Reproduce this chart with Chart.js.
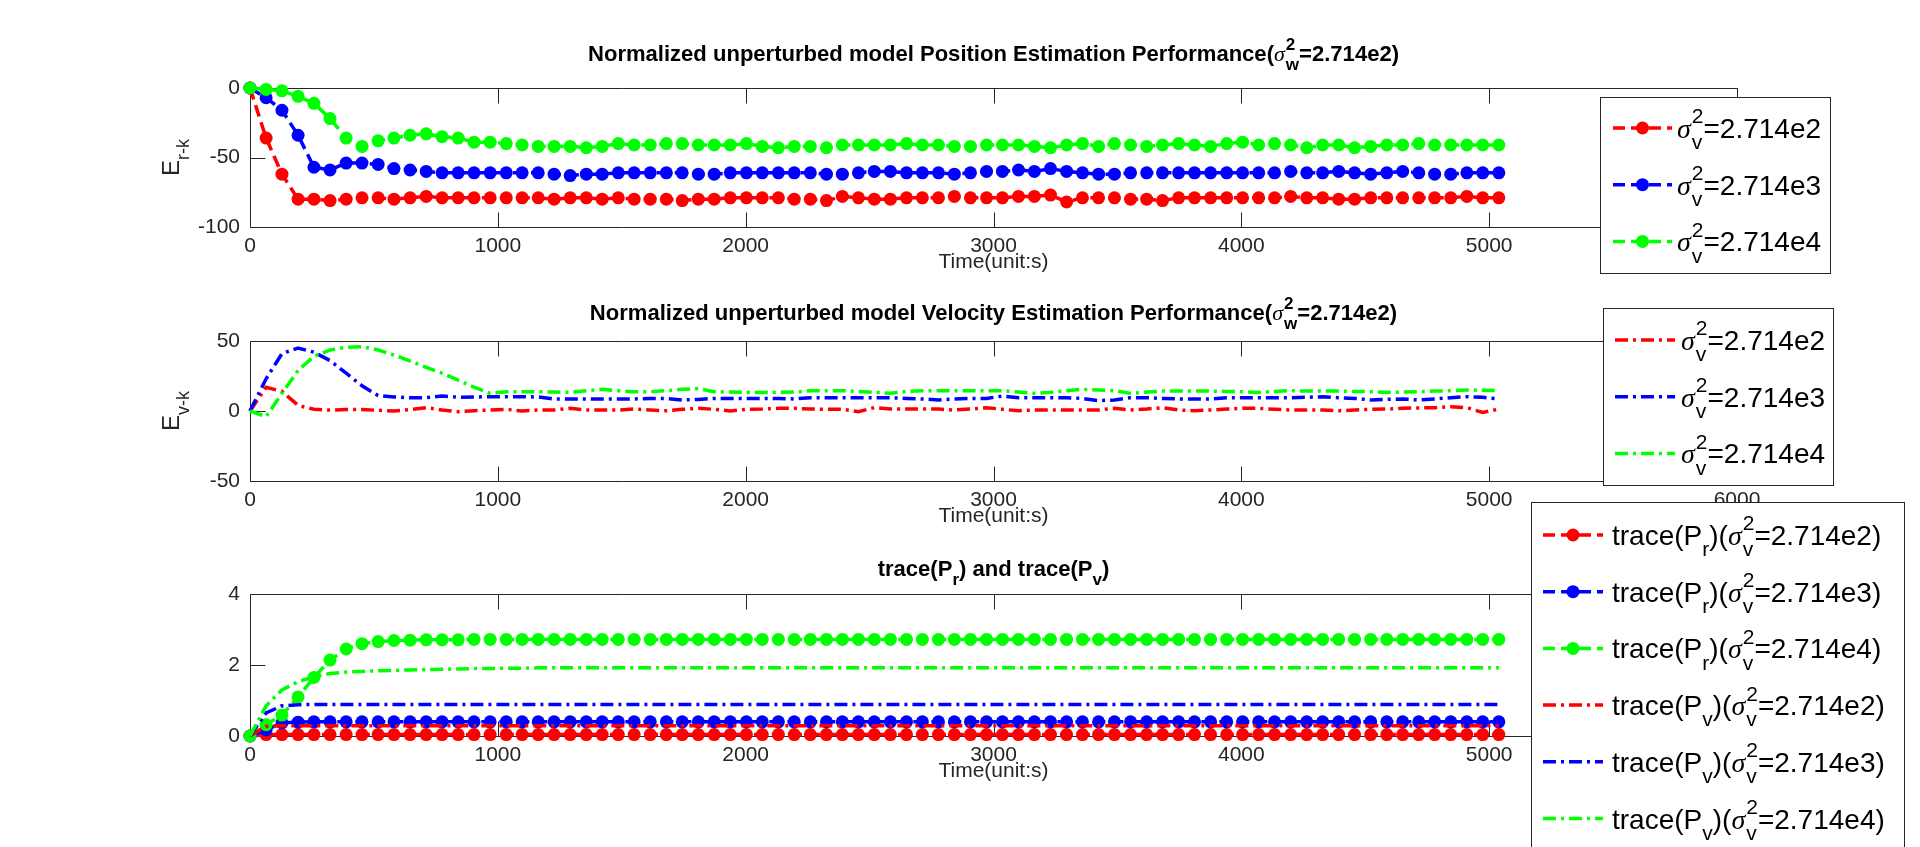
<!DOCTYPE html>
<html>
<head>
<meta charset="utf-8">
<script src="https://cdn.jsdelivr.net/npm/chart.js@4.4.1/dist/chart.umd.min.js"></script>
<style>
  html, body { margin: 0; padding: 0; background: #fff; }
  #wrap { position: relative; width: 1920px; height: 847px; overflow: hidden; background: #fff; }
  #wrap canvas { position: absolute; left: 0; top: 0; }
</style>
</head>
<body>
<div id="wrap">
  <canvas id="posChart" width="1920" height="847"></canvas>
  <canvas id="velChart" width="1920" height="847"></canvas>
  <canvas id="trChart" width="1920" height="847"></canvas>
</div>
<script>
// sample times (s)
const timeS = [0, 65, 129, 194, 258, 323, 388, 452, 517, 581,
  646, 711, 775, 840, 904, 969, 1034, 1098, 1163, 1227,
  1292, 1357, 1421, 1486, 1550, 1615, 1680, 1744, 1809, 1873,
  1938, 2003, 2067, 2132, 2196, 2261, 2326, 2390, 2455, 2519,
  2584, 2649, 2713, 2778, 2842, 2907, 2972, 3036, 3101, 3165,
  3230, 3295, 3359, 3424, 3488, 3553, 3618, 3682, 3747, 3811,
  3876, 3941, 4005, 4070, 4134, 4199, 4264, 4328, 4393, 4457,
  4522, 4587, 4651, 4716, 4780, 4845, 4910, 4974, 5039];

// position error E_r-k
const posR2 = [0, -36, -62, -80, -80, -81, -80, -79, -79, -80,
  -79, -78, -79, -79, -79, -79, -79, -79, -79, -80,
  -79, -79, -80, -79, -80, -80, -80, -81, -80, -80,
  -79, -79, -79, -79, -80, -80, -81, -78, -79, -80,
  -80, -79, -79, -79, -78, -79, -79, -79, -78, -78,
  -77, -82, -79, -79, -79, -80, -80, -81, -79, -79,
  -79, -79, -79, -79, -79, -78, -79, -79, -80, -80,
  -79, -79, -79, -79, -79, -79, -78, -79, -79];
const posR3 = [0, -7, -16, -34, -57, -59, -54, -54, -55, -58,
  -59, -60, -61, -61, -61, -61, -61, -61, -61, -62,
  -63, -62, -62, -61, -61, -61, -61, -61, -62, -62,
  -61, -61, -61, -61, -61, -61, -62, -62, -61, -60,
  -60, -61, -61, -61, -62, -61, -60, -60, -59, -60,
  -58, -60, -61, -62, -62, -61, -61, -61, -61, -61,
  -61, -61, -61, -61, -61, -60, -61, -61, -60, -61,
  -62, -61, -60, -61, -62, -62, -61, -61, -61];
const posR4 = [0, -1, -2, -6, -11, -22, -36, -42, -38, -36,
  -34, -33, -35, -36, -39, -39, -40, -41, -42, -42,
  -42, -43, -42, -40, -41, -41, -40, -40, -41, -41,
  -41, -40, -42, -43, -42, -42, -43, -41, -41, -41,
  -41, -40, -41, -41, -42, -42, -41, -41, -41, -42,
  -43, -41, -40, -42, -40, -41, -42, -41, -40, -41,
  -42, -40, -39, -41, -40, -41, -43, -41, -41, -43,
  -42, -41, -41, -40, -41, -41, -41, -41, -41];

// velocity error E_v-k
const velR2 = [0, 17, 14, 4, 1.2, 0.7, 1, 1, 0.5, 0,
  1, 2.4, 0.7, -0.5, 0.2, 0.7, 1.2, 0, 0.7, 0.7,
  1.9, 0.7, 0.7, 0.7, 1.4, 0.7, 0.2, 1.2, 1.9, 1.2,
  0, 1.2, 1.4, 1.9, 1.9, 1.4, 1.2, 1.2, -0.5, 2.4,
  1.4, 1.4, 1.4, 1.4, 0.7, 1.4, 2.4, 1.2, 0.2, 0.7,
  0.7, 0.7, 0.7, 0.7, 1.9, 0.7, 1.4, 2.4, 0.7, 0.2,
  0.7, 1.4, 1.9, 1.9, 1.2, 0.7, 0.7, 0.7, 0.2, 0.7,
  1.2, 1.4, 1.9, 2.2, 2.4, 3.1, 2.4, -1, 1.4];
const velR3 = [0, 23, 41, 45, 42, 36, 27, 18, 11, 10,
  9.5, 9.5, 10.7, 9.8, 10, 10.2, 10.2, 10.2, 10, 8.6,
  8.6, 8.6, 8.6, 8.6, 8.6, 9, 9, 7.9, 8.3, 9,
  9, 9, 9, 9, 8.6, 9.5, 9.5, 9.5, 9.5, 9.5,
  9.5, 9, 8.6, 7.9, 8.6, 9, 9, 10.7, 9.5, 9.5,
  9.5, 9.5, 9, 7.4, 7.9, 9.5, 9.5, 9, 8.6, 8.6,
  8.6, 9.5, 9.5, 9.5, 9.5, 9.5, 9.8, 10.2, 9.5, 9,
  7.9, 8.3, 8.6, 7.9, 8.6, 9.5, 10.2, 9.8, 8.6];
const velR4 = [0, -4, 12.6, 29, 39, 43.6, 45.5, 46, 43.6, 40,
  35.7, 31.2, 27, 22, 17, 12.6, 13.8, 13.8, 13.8, 13.5,
  13.3, 14.5, 15.5, 14.5, 13.8, 13.8, 14.5, 15.5, 16, 13.8,
  13.5, 13.3, 13.3, 13.3, 13.5, 14.5, 14.5, 14.5, 14, 13.3,
  12.6, 14, 14.5, 14.5, 14.5, 14.5, 14.5, 14.5, 13.5, 12.6,
  13.3, 14.5, 15.5, 15, 14.5, 12.6, 13.5, 14.2, 14.2, 14.2,
  14.2, 14, 13.8, 13.3, 14, 14.5, 14.2, 14.2, 14.2, 14,
  13.8, 13.3, 13.5, 13.8, 14.2, 14.5, 15, 14.8, 14.5];

// covariance traces
const trPr2 = [0, 0.04, 0.04, 0.04, 0.04, 0.04, 0.04, 0.04, 0.04, 0.04,
  0.04, 0.04, 0.04, 0.04, 0.04, 0.04, 0.04, 0.04, 0.04, 0.04,
  0.04, 0.04, 0.04, 0.04, 0.04, 0.04, 0.04, 0.04, 0.04, 0.04,
  0.04, 0.04, 0.04, 0.04, 0.04, 0.04, 0.04, 0.04, 0.04, 0.04,
  0.04, 0.04, 0.04, 0.04, 0.04, 0.04, 0.04, 0.04, 0.04, 0.04,
  0.04, 0.04, 0.04, 0.04, 0.04, 0.04, 0.04, 0.04, 0.04, 0.04,
  0.04, 0.04, 0.04, 0.04, 0.04, 0.04, 0.04, 0.04, 0.04, 0.04,
  0.04, 0.04, 0.04, 0.04, 0.04, 0.04, 0.04, 0.04, 0.04];
const trPr3 = [0, 0.17, 0.37, 0.39, 0.4, 0.4, 0.4, 0.4, 0.4, 0.4,
  0.4, 0.4, 0.4, 0.4, 0.4, 0.4, 0.4, 0.4, 0.4, 0.4,
  0.4, 0.4, 0.4, 0.4, 0.4, 0.4, 0.4, 0.4, 0.4, 0.4,
  0.4, 0.4, 0.4, 0.4, 0.4, 0.4, 0.4, 0.4, 0.4, 0.4,
  0.4, 0.4, 0.4, 0.4, 0.4, 0.4, 0.4, 0.4, 0.4, 0.4,
  0.4, 0.4, 0.4, 0.4, 0.4, 0.4, 0.4, 0.4, 0.4, 0.4,
  0.4, 0.4, 0.4, 0.4, 0.4, 0.4, 0.4, 0.4, 0.4, 0.4,
  0.4, 0.4, 0.4, 0.4, 0.4, 0.4, 0.4, 0.4, 0.4];
const trPr4 = [0, 0.32, 0.59, 1.1, 1.65, 2.14, 2.45, 2.6, 2.66, 2.69,
  2.7, 2.71, 2.71, 2.71, 2.72, 2.72, 2.72, 2.72, 2.72, 2.72,
  2.72, 2.72, 2.72, 2.72, 2.72, 2.72, 2.72, 2.72, 2.72, 2.72,
  2.72, 2.72, 2.72, 2.72, 2.72, 2.72, 2.72, 2.72, 2.72, 2.72,
  2.72, 2.72, 2.72, 2.72, 2.72, 2.72, 2.72, 2.72, 2.72, 2.72,
  2.72, 2.72, 2.72, 2.72, 2.72, 2.72, 2.72, 2.72, 2.72, 2.72,
  2.72, 2.72, 2.72, 2.72, 2.72, 2.72, 2.72, 2.72, 2.72, 2.72,
  2.72, 2.72, 2.72, 2.72, 2.72, 2.72, 2.72, 2.72, 2.72];
const trPv2 = [0, 0.27, 0.29, 0.29, 0.29, 0.29, 0.29, 0.29, 0.29, 0.29,
  0.29, 0.29, 0.29, 0.29, 0.29, 0.29, 0.29, 0.29, 0.29, 0.29,
  0.29, 0.29, 0.29, 0.29, 0.29, 0.29, 0.29, 0.29, 0.29, 0.29,
  0.29, 0.29, 0.29, 0.29, 0.29, 0.29, 0.29, 0.29, 0.29, 0.29,
  0.29, 0.29, 0.29, 0.29, 0.29, 0.29, 0.29, 0.29, 0.29, 0.29,
  0.29, 0.29, 0.29, 0.29, 0.29, 0.29, 0.29, 0.29, 0.29, 0.29,
  0.29, 0.29, 0.29, 0.29, 0.29, 0.29, 0.29, 0.29, 0.29, 0.29,
  0.29, 0.29, 0.29, 0.29, 0.29, 0.29, 0.29, 0.29, 0.29];
const trPv3 = [0, 0.65, 0.85, 0.88, 0.89, 0.89, 0.89, 0.89, 0.89, 0.89,
  0.89, 0.89, 0.89, 0.89, 0.89, 0.89, 0.89, 0.89, 0.89, 0.89,
  0.89, 0.89, 0.89, 0.89, 0.89, 0.89, 0.89, 0.89, 0.89, 0.89,
  0.89, 0.89, 0.89, 0.89, 0.89, 0.89, 0.89, 0.89, 0.89, 0.89,
  0.89, 0.89, 0.89, 0.89, 0.89, 0.89, 0.89, 0.89, 0.89, 0.89,
  0.89, 0.89, 0.89, 0.89, 0.89, 0.89, 0.89, 0.89, 0.89, 0.89,
  0.89, 0.89, 0.89, 0.89, 0.89, 0.89, 0.89, 0.89, 0.89, 0.89,
  0.89, 0.89, 0.89, 0.89, 0.89, 0.89, 0.89, 0.89, 0.89];
const trPv4 = [0, 0.85, 1.3, 1.53, 1.67, 1.76, 1.8, 1.82, 1.84, 1.85,
  1.86, 1.87, 1.88, 1.89, 1.9, 1.9, 1.91, 1.91, 1.92, 1.92,
  1.92, 1.92, 1.92, 1.92, 1.92, 1.92, 1.92, 1.92, 1.92, 1.92,
  1.92, 1.92, 1.92, 1.92, 1.92, 1.92, 1.92, 1.92, 1.92, 1.92,
  1.92, 1.92, 1.92, 1.92, 1.92, 1.92, 1.92, 1.92, 1.92, 1.92,
  1.92, 1.92, 1.92, 1.92, 1.92, 1.92, 1.92, 1.92, 1.92, 1.92,
  1.92, 1.92, 1.92, 1.92, 1.92, 1.92, 1.92, 1.92, 1.92, 1.92,
  1.92, 1.92, 1.92, 1.92, 1.92, 1.92, 1.92, 1.92, 1.92];

// tick labels
const xTicks = [0, 1000, 2000, 3000, 4000, 5000, 6000];
const yTicksPos = [-100, -50, 0];
const yTicksVel = [-50, 0, 50];
const yTicksTr = [0, 2, 4];

const RED = '#ff0000', BLUE = '#0000ff', GREEN = '#00ff00';
const AXC = '#262626';
const SANS = '"Liberation Sans", Arial, Helvetica, sans-serif';
const SERIF = '"Liberation Serif", "Times New Roman", serif';
const DASH = [12, 6];
const DASHDOT = [13, 5, 3, 5];
const AX_LEFT = 250, AX_RIGHT = 1737, XH = 48, TICKLEN = 15;
const LINEW = 3.5, MARKR = 6.5;

// ---- rich text (sub/superscripts like MATLAB TeX) ----
function fontOf(kind, F, bold) {
  const b = bold ? 'bold ' : '';
  if (kind === 'sym') return 'italic ' + F + 'px ' + SERIF;
  if (kind === 'script') return b + Math.round(F * 0.75) + 'px ' + SANS;
  return b + F + 'px ' + SANS;
}
function richWidth(ctx, parts, F, bold) {
  let w = 0;
  parts.forEach(p => {
    if (typeof p === 'string') { ctx.font = fontOf('n', F, bold); w += ctx.measureText(p).width; }
    else if (p.sym) { ctx.font = fontOf('sym', F, bold); w += ctx.measureText(p.sym).width + 1; }
    else {
      ctx.font = fontOf('script', F, bold);
      w += Math.max(p.sup ? ctx.measureText(p.sup).width : 0, p.sub ? ctx.measureText(p.sub).width : 0);
    }
  });
  return w;
}
function drawRich(ctx, parts, x, y, F, bold, color) {
  ctx.fillStyle = color;
  ctx.textBaseline = 'alphabetic';
  ctx.textAlign = 'left';
  parts.forEach(p => {
    if (typeof p === 'string') {
      ctx.font = fontOf('n', F, bold); ctx.fillText(p, x, y); x += ctx.measureText(p).width;
    } else if (p.sym) {
      ctx.font = fontOf('sym', F, bold); ctx.fillText(p.sym, x, y); x += ctx.measureText(p.sym).width + 1;
    } else {
      ctx.font = fontOf('script', F, bold);
      let w = 0;
      if (p.sup) { ctx.fillText(p.sup, x, y - F * 0.52); w = ctx.measureText(p.sup).width; }
      if (p.sub) { ctx.fillText(p.sub, x, y + F * 0.4); w = Math.max(w, ctx.measureText(p.sub).width); }
      x += w;
    }
  });
}

// decorations kept outside Chart.js options (its option proxy rewrites nested arrays)
const extras = {};
const TITLE_F = 22, TITLE_W = 811;
let titleScaleX = null;

const matlabPlugin = {
  id: 'matlabBox',
  beforeDatasetsDraw(chart) {
    const ctx = chart.ctx, a = chart.chartArea;
    const xs = chart.scales.x, ys = chart.scales.y;
    ctx.save();
    ctx.strokeStyle = AXC;
    ctx.lineWidth = 1;
    ctx.setLineDash([]);
    ctx.beginPath();
    const L = Math.round(a.left) + 0.5, R = Math.round(a.right) + 0.5;
    const T = Math.round(a.top) + 0.5, B = Math.round(a.bottom) + 0.5;
    ctx.rect(L, T, R - L, B - T);
    xs.ticks.forEach(t => {
      const px = Math.round(xs.getPixelForValue(t.value)) + 0.5;
      ctx.moveTo(px, B); ctx.lineTo(px, B - TICKLEN);
      ctx.moveTo(px, T); ctx.lineTo(px, T + TICKLEN);
    });
    ys.ticks.forEach(t => {
      const py = Math.round(ys.getPixelForValue(t.value)) + 0.5;
      ctx.moveTo(L, py); ctx.lineTo(L + TICKLEN, py);
      ctx.moveTo(R, py); ctx.lineTo(R - TICKLEN, py);
    });
    ctx.stroke();
    ctx.restore();
  },
  afterDraw(chart) {
    const ex = extras[chart.canvas.id];
    const ctx = chart.ctx, a = chart.chartArea;
    ctx.save();
    // title: bold, slightly condensed like the MATLAB rendering
    if (titleScaleX === null) {
      titleScaleX = TITLE_W / richWidth(ctx, ex.fitTitle, TITLE_F, true);
    }
    const tw = richWidth(ctx, ex.title, TITLE_F, true) * titleScaleX;
    ctx.save();
    ctx.translate((a.left + a.right) / 2 - tw / 2, a.top - ex.titleGap);
    ctx.scale(titleScaleX, 1);
    drawRich(ctx, ex.title, 0, 0, TITLE_F, true, '#000');
    ctx.restore();
    // y label
    if (ex.ylabel) {
      const F = 24;
      const lw = richWidth(ctx, ex.ylabel, F, false);
      ctx.save();
      ctx.translate(179, (a.top + a.bottom) / 2);
      ctx.rotate(-Math.PI / 2);
      drawRich(ctx, ex.ylabel, -lw / 2, 0, F, false, AXC);
      ctx.restore();
    }
    // legend
    const lg = ex.legend;
    ctx.fillStyle = '#fff';
    ctx.fillRect(lg.x, lg.y, lg.w, lg.h);
    ctx.strokeStyle = AXC;
    ctx.lineWidth = 1;
    ctx.setLineDash([]);
    ctx.strokeRect(lg.x + 0.5, lg.y + 0.5, lg.w, lg.h);
    lg.items.forEach((it, i) => {
      const cy = lg.y + lg.first + i * lg.step;
      ctx.strokeStyle = it.color;
      ctx.lineWidth = LINEW;
      ctx.setLineDash(it.dash);
      ctx.beginPath();
      ctx.moveTo(lg.x + lg.s0, cy); ctx.lineTo(lg.x + lg.s1, cy);
      ctx.stroke();
      ctx.setLineDash([]);
      if (it.marker) {
        ctx.fillStyle = it.color;
        ctx.beginPath();
        ctx.arc(lg.x + (lg.s0 + lg.s1) / 2, cy, MARKR, 0, Math.PI * 2);
        ctx.fill();
      }
      drawRich(ctx, it.parts, lg.x + lg.tx, cy + 10, 28, false, '#000');
    });
    ctx.restore();
  }
};

function series(vals, color, dash, marker, order) {
  return {
    data: timeS.map((t, i) => ({ x: t, y: vals[i] })),
    borderColor: color,
    backgroundColor: color,
    borderWidth: LINEW,
    borderDash: dash,
    pointRadius: marker ? MARKR : 0,
    pointBackgroundColor: color,
    pointBorderWidth: 0,
    pointStyle: 'circle',
    tension: 0,
    fill: false,
    clip: false,
    order: order
  };
}

function makeChart(id, cfg) {
  extras[id] = cfg.extra;
  const tickFont = { family: SANS, size: 21 };
  return new Chart(document.getElementById(id), {
    type: 'line',
    data: { datasets: cfg.datasets },
    options: {
      responsive: false,
      animation: false,
      events: [],
      devicePixelRatio: 1,
      layout: { padding: { left: 0, right: 1920 - AX_RIGHT, top: cfg.top, bottom: 847 - cfg.bottom - XH } },
      plugins: {
        legend: { display: false },
        tooltip: { enabled: false }
      },
      scales: {
        x: {
          type: 'linear', min: 0, max: 6000,
          afterBuildTicks: s => { s.ticks = xTicks.map(v => ({ value: v })); },
          afterFit: s => { s.height = XH; },
          grid: { display: false, drawTicks: false },
          border: { display: false },
          ticks: { font: tickFont, color: AXC, padding: 7, maxRotation: 0, autoSkip: false, callback: v => String(v) },
          title: { display: true, text: 'Time(unit:s)', font: tickFont, color: AXC, padding: 0 }
        },
        y: {
          type: 'linear', min: cfg.yTicks[0], max: cfg.yTicks[cfg.yTicks.length - 1],
          afterBuildTicks: s => { s.ticks = cfg.yTicks.map(v => ({ value: v })); },
          afterFit: s => { s.width = AX_LEFT; },
          grid: { display: false, drawTicks: false },
          border: { display: false },
          ticks: { font: tickFont, color: AXC, padding: 10, callback: v => String(v) }
        }
      }
    },
    plugins: [matlabPlugin]
  });
}

const sigV = (e) => [{ sym: 'σ' }, { sup: '2', sub: 'v' }, '=2.714e' + e];
const posTitle = ['Normalized unperturbed model Position Estimation Performance(', { sym: 'σ' }, { sup: '2', sub: 'w' }, '=2.714e2)'];

makeChart('posChart', {
  top: 88, bottom: 227, yTicks: yTicksPos,
  datasets: [
    series(posR2, RED, DASH, true, 2),
    series(posR3, BLUE, DASH, true, 1),
    series(posR4, GREEN, DASH, true, 0)
  ],
  extra: {
    fitTitle: posTitle,
    title: posTitle,
    titleGap: 27,
    ylabel: ['E', { sub: 'r-k' }],
    legend: {
      x: 1600, y: 97, w: 230, h: 176, first: 31, step: 56.7, s0: 13, s1: 72, tx: 77,
      items: [
        { color: RED, dash: DASH, marker: true, parts: sigV('2') },
        { color: BLUE, dash: DASH, marker: true, parts: sigV('3') },
        { color: GREEN, dash: DASH, marker: true, parts: sigV('4') }
      ]
    }
  }
});

makeChart('velChart', {
  top: 341, bottom: 481, yTicks: yTicksVel,
  datasets: [
    series(velR2, RED, DASHDOT, false, 2),
    series(velR3, BLUE, DASHDOT, false, 1),
    series(velR4, GREEN, DASHDOT, false, 0)
  ],
  extra: {
    fitTitle: posTitle,
    title: ['Normalized unperturbed model Velocity Estimation Performance(', { sym: 'σ' }, { sup: '2', sub: 'w' }, '=2.714e2)'],
    titleGap: 21,
    ylabel: ['E', { sub: 'v-k' }],
    legend: {
      x: 1603, y: 308, w: 230, h: 177, first: 32, step: 56.7, s0: 12, s1: 72, tx: 78,
      items: [
        { color: RED, dash: DASHDOT, marker: false, parts: sigV('2') },
        { color: BLUE, dash: DASHDOT, marker: false, parts: sigV('3') },
        { color: GREEN, dash: DASHDOT, marker: false, parts: sigV('4') }
      ]
    }
  }
});

const trP = (s, e) => ['trace(P', { sub: s }, ')(', { sym: 'σ' }, { sup: '2', sub: 'v' }, '=2.714e' + e + ')'];
makeChart('trChart', {
  top: 594, bottom: 736, yTicks: yTicksTr,
  datasets: [
    series(trPr2, RED, DASH, true, 5),
    series(trPr3, BLUE, DASH, true, 4),
    series(trPr4, GREEN, DASH, true, 3),
    series(trPv2, RED, DASHDOT, false, 2),
    series(trPv3, BLUE, DASHDOT, false, 1),
    series(trPv4, GREEN, DASHDOT, false, 0)
  ],
  extra: {
    fitTitle: posTitle,
    title: ['trace(P', { sub: 'r' }, ') and trace(P', { sub: 'v' }, ')'],
    titleGap: 18,
    ylabel: null,
    legend: {
      x: 1531, y: 502, w: 373, h: 400, first: 33, step: 56.7, s0: 12, s1: 72, tx: 81,
      items: [
        { color: RED, dash: DASH, marker: true, parts: trP('r', '2') },
        { color: BLUE, dash: DASH, marker: true, parts: trP('r', '3') },
        { color: GREEN, dash: DASH, marker: true, parts: trP('r', '4') },
        { color: RED, dash: DASHDOT, marker: false, parts: trP('v', '2') },
        { color: BLUE, dash: DASHDOT, marker: false, parts: trP('v', '3') },
        { color: GREEN, dash: DASHDOT, marker: false, parts: trP('v', '4') }
      ]
    }
  }
});
</script>
</body>
</html>
